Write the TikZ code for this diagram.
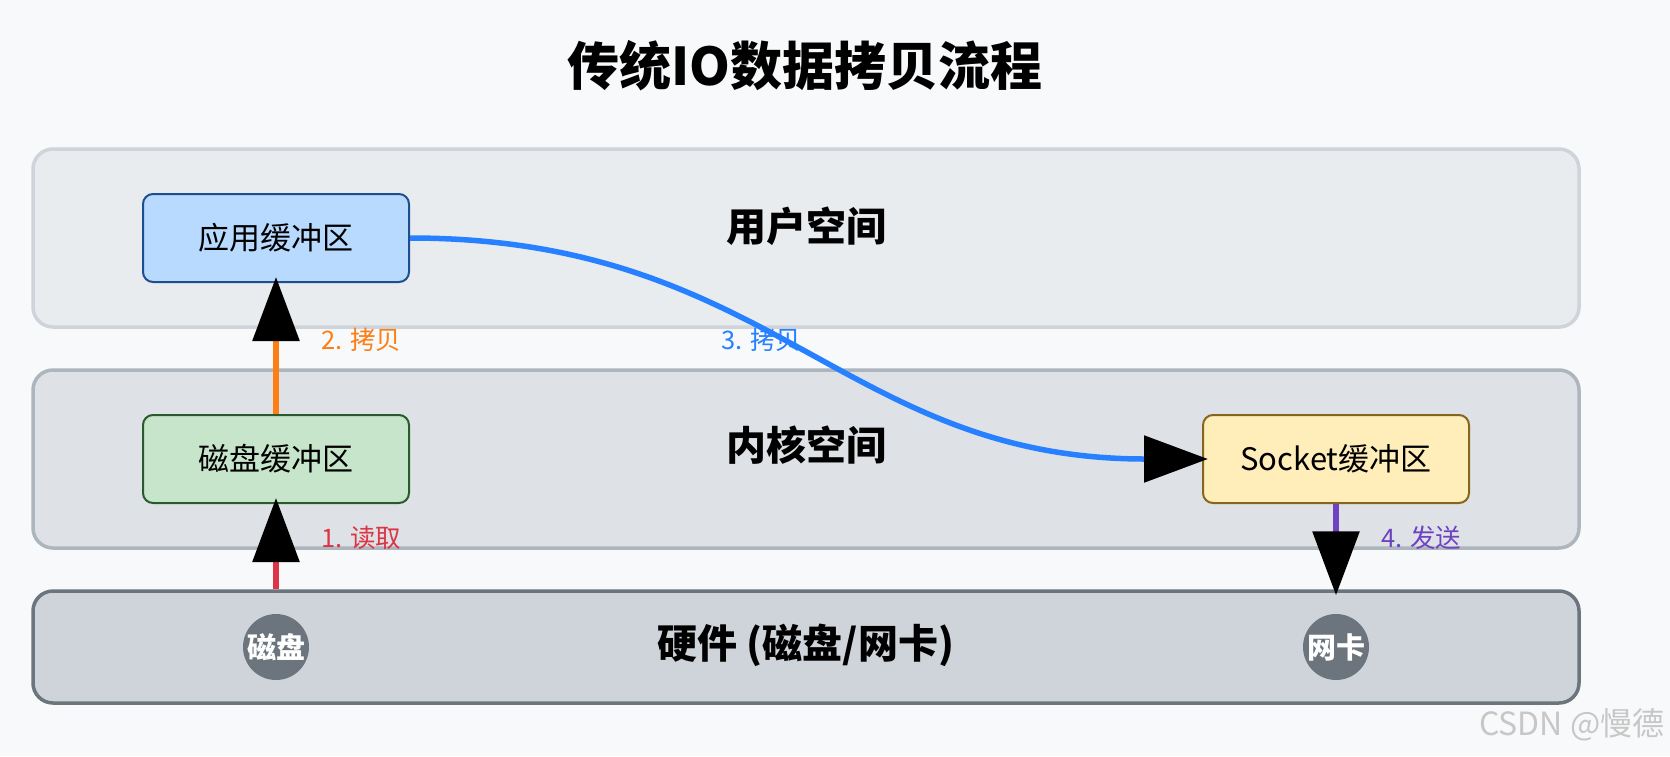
\documentclass[tikz,border=0pt]{standalone}
\usepackage{fontspec}
\setmainfont{Noto Sans CJK SC}
\usetikzlibrary{arrows.meta}

\definecolor{bgcol}{HTML}{F8F9FA}
\definecolor{userfill}{HTML}{E9ECEF}
\definecolor{userline}{HTML}{CED4DA}
\definecolor{kernfill}{HTML}{DEE2E6}
\definecolor{kernline}{HTML}{ADB5BD}
\definecolor{hwfill}{HTML}{CED4DA}
\definecolor{hwline}{HTML}{6C757D}
\definecolor{appfill}{HTML}{B8DAFF}
\definecolor{appline}{HTML}{1C4F8F}
\definecolor{diskfill}{HTML}{C6E5CA}
\definecolor{diskline}{HTML}{275C2A}
\definecolor{sockfill}{HTML}{FFEEBA}
\definecolor{sockline}{HTML}{86661C}
\definecolor{devgray}{HTML}{6C757D}
\definecolor{readred}{HTML}{DC3545}
\definecolor{copyorange}{HTML}{FD7E14}
\definecolor{copyblue}{HTML}{2680FF}
\definecolor{sendpurple}{HTML}{6F42C1}

\begin{document}
\begin{tikzpicture}[x = 1pt, y = -1pt,
  layer/.style = {draw, rounded corners=20pt, line width=3.5pt, minimum width=1546pt},
  buffer/.style = {draw, rounded corners=10pt, line width=2pt, minimum width=266pt,
    minimum height=88pt, font=\fontsize{31}{37}\selectfont},
  device/.style = {circle, fill=devgray, text=white, minimum size=66pt, inner sep=0pt,
    font=\bfseries\fontsize{29}{34}\selectfont},
  layertitle/.style = {font=\bfseries\fontsize{40}{48}\selectfont},
  steplabel/.style = {anchor=west, font=\fontsize{25.5}{30}\selectfont},
  flow/.style = {line width=6pt, shorten >=-6pt,
    -{Triangle[length=64pt, width=46pt, color=black, fill=black]}}]
\fill[bgcol] (0,0) rectangle (1670,756);
\useasboundingbox (0,0) rectangle (1670,756);

\node[font=\bfseries\fontsize{52}{62}\selectfont] (title) at (805,66) {传统IO数据拷贝流程};

% Layers
\node[layer, fill=userfill, draw=userline, minimum height=178pt] (user) at (806,238) {};
\node[layer, fill=kernfill, draw=kernline, minimum height=178pt] (kernel) at (806,459) {};
\node[layer, fill=hwfill, draw=hwline, minimum height=112pt] (hw) at (806,647) {};
\node[layertitle] (userTitle) at (806,226) {用户空间};
\node[layertitle] (kernelTitle) at (806,445) {内核空间};
\node[layertitle] (hwTitle) at (806,645) {硬件 (磁盘/网卡)};

% Buffers and devices
\node[buffer, fill=appfill, draw=appline] (appBuf) at (276,238) {应用缓冲区};
\node[buffer, fill=diskfill, draw=diskline] (diskBuf) at (276,459) {磁盘缓冲区};
\node[buffer, fill=sockfill, draw=sockline] (sockBuf) at (1336,459) {Socket缓冲区};
\node[device] (disk) at (276,647) {磁盘};
\node[device] (nic) at (1336,647) {网卡};

% Copy steps
\draw[flow, draw=readred] (disk |- hw.north) -- (diskBuf.south);
\draw[flow, draw=copyorange] (diskBuf.north) -- (appBuf.south);
\draw[flow, draw=copyblue, line width=5.5pt] (appBuf.east) .. controls (772,238) and (844,459) .. (sockBuf.west);
\draw[flow, draw=sendpurple] (sockBuf.south) -- (nic |- hw.north);
\node[steplabel, text=readred] (readLabel) at (318,538) {1. 读取};
\node[steplabel, text=copyorange] (copyOneLabel) at (318,340) {2. 拷贝};
\node[steplabel, text=copyblue] (copyTwoLabel) at (718,340) {3. 拷贝};
\node[steplabel, text=sendpurple] (sendLabel) at (1378,538) {4. 发送};

\node[anchor=east, text=black!22, font=\fontsize{32}{38}\selectfont] (mark) at (1668,725) {CSDN @慢德};
\end{tikzpicture}
\end{document}
